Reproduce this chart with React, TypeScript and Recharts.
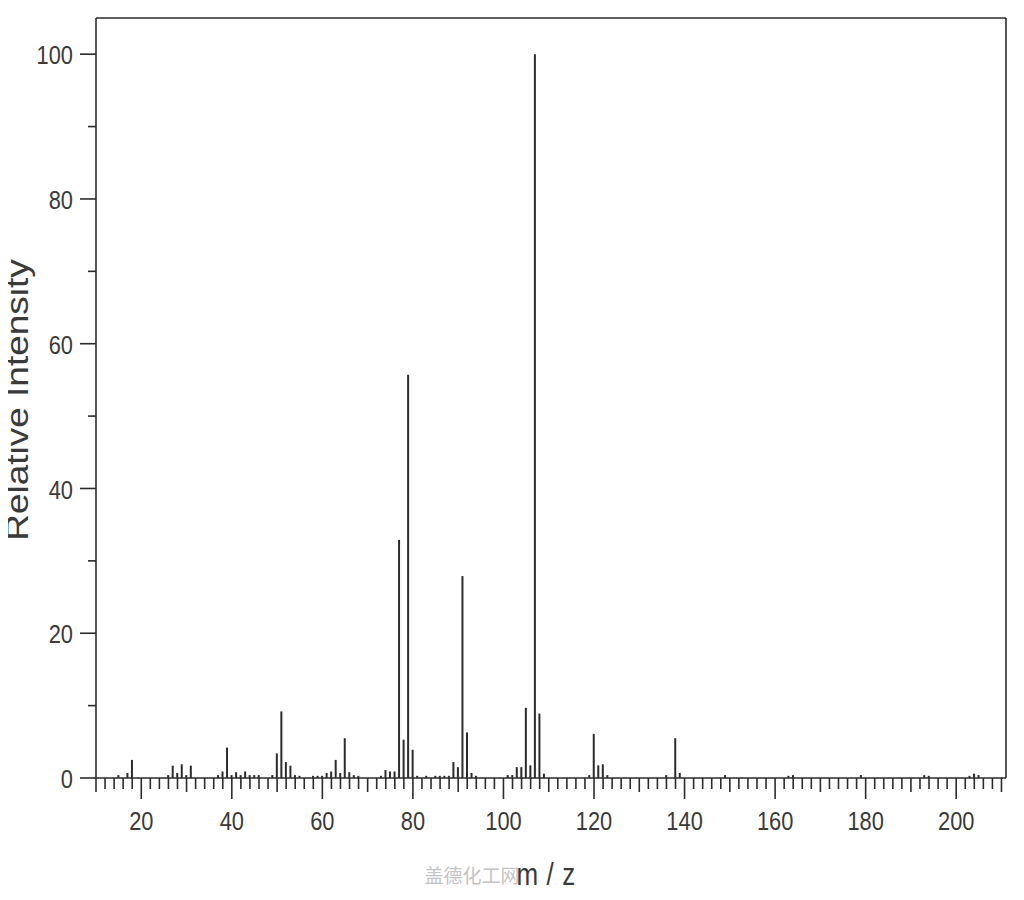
import React from 'react';
import { BarChart, Bar, XAxis, YAxis, ReferenceLine } from 'recharts';

// Mass spectrum peaks (m/z and relative intensity, %)
const MZ = [
  15, 17, 18, 26, 27, 28, 29, 30, 31, 37, 38, 39, 40, 41, 42, 43, 44, 45, 46, 49,
  50, 51, 52, 53, 54, 55, 58, 59, 60, 61, 62, 63, 64, 65, 66, 67, 68, 73, 74, 75,
  76, 77, 78, 79, 80, 81, 83, 85, 86, 87, 88, 89, 90, 91, 92, 93, 94, 101, 102, 103,
  104, 105, 106, 107, 108, 109, 119, 120, 121, 122, 123, 136, 138, 139, 149, 163, 164, 179, 193, 194,
  203, 204, 205,
];
const INTENSITY = [
  0.4, 0.7, 2.5, 0.4, 1.7, 0.7, 1.9, 0.4, 1.7, 0.4, 0.9, 4.2, 0.4, 0.8, 0.4, 0.9, 0.4, 0.4, 0.4, 0.4,
  3.4, 9.2, 2.2, 1.7, 0.4, 0.3, 0.3, 0.3, 0.3, 0.7, 0.9, 2.5, 0.7, 5.5, 0.8, 0.4, 0.3, 0.3, 1.1, 0.9,
  0.9, 32.9, 5.3, 55.7, 3.9, 0.3, 0.3, 0.3, 0.3, 0.3, 0.3, 2.2, 1.5, 27.9, 6.3, 0.7, 0.3, 0.4, 0.4, 1.5,
  1.5, 9.7, 1.75, 100, 8.9, 0.6, 0.4, 6.1, 1.75, 1.9, 0.4, 0.4, 5.5, 0.7, 0.4, 0.3, 0.4, 0.4, 0.4, 0.3,
  0.3, 0.6, 0.4,
];

const X_LABELS = [20, 40, 60, 80, 100, 120, 140, 160, 180, 200];
const Y_LABELS = [0, 20, 40, 60, 80, 100];
const Y_TICKS = [0, 10, 20, 30, 40, 50, 60, 70, 80, 90, 100];
// minor tick every 2 units along m/z
const X_TICKS = Array.from({ length: 101 }, (_, i) => 10 + i * 2);

const X_DOMAIN = [10, 211];
const Y_DOMAIN = [0, 105];

const data = MZ.map((mz, i) => ({ mz, intensity: INTENSITY[i] }));

const INK = '#2b2b2b';
const LABEL_INK = '#3a3a3a';
const FONT = '"Liberation Sans", Arial, sans-serif';

const XTick = ({ x, y, payload }: any) => {
  const v = payload.value;
  const len = v % 20 === 0 ? 21 : v % 10 === 0 ? 14 : 11;
  return (
    <g>
      <line x1={x} y1={y} x2={x} y2={y + len} stroke={INK} strokeWidth={1.6} />
      {X_LABELS.includes(v) && (
        <text
          transform={`translate(${x},${y + 43}) scale(0.84,1)`}
          textAnchor="middle"
          dominantBaseline="central"
          fontSize={26}
          fill={LABEL_INK}
          fontFamily={FONT}
        >
          {v}
        </text>
      )}
    </g>
  );
};

const YTick = ({ x, y, payload }: any) => {
  const v = payload.value;
  const len = v % 20 === 0 ? 16 : 8;
  return (
    <g>
      <line x1={x - len} y1={y} x2={x} y2={y} stroke={INK} strokeWidth={1.6} />
      {Y_LABELS.includes(v) && (
        <text
          transform={`translate(${x - 23},${y + 1}) scale(0.84,1)`}
          textAnchor="end"
          dominantBaseline="central"
          fontSize={26}
          fill={LABEL_INK}
          fontFamily={FONT}
        >
          {v}
        </text>
      )}
    </g>
  );
};

export default function App() {
  return (
    <div style={{ position: 'relative', width: 1010, height: 890 }}>
      <BarChart
        width={1010}
        height={890}
        data={data}
        margin={{ top: 10, right: 12, bottom: 0, left: 0 }}
      >
        <XAxis
          xAxisId="main"
          dataKey="mz"
          type="number"
          domain={X_DOMAIN}
          ticks={X_TICKS}
          interval={0}
          height={120}
          tickSize={0}
          tickMargin={0}
          tickLine={false}
          tick={<XTick />}
          axisLine={{ stroke: INK, strokeWidth: 1.6 }}
        />
        <YAxis
          yAxisId="main"
          type="number"
          domain={Y_DOMAIN}
          ticks={Y_TICKS}
          interval={0}
          width={88}
          tickSize={0}
          tickMargin={0}
          tickLine={false}
          tick={<YTick />}
          axisLine={{ stroke: INK, strokeWidth: 1.6 }}
        />
        {/* box frame: top and right edges */}
        <ReferenceLine xAxisId="main" yAxisId="main" y={Y_DOMAIN[1]} stroke={INK} strokeWidth={1.6} />
        <ReferenceLine xAxisId="main" yAxisId="main" x={X_DOMAIN[1]} stroke={INK} strokeWidth={1.6} />
        <Bar
          xAxisId="main"
          yAxisId="main"
          dataKey="intensity"
          fill={INK}
          barSize={2}
          isAnimationActive={false}
        />
      </BarChart>
      <svg
        width={1010}
        height={890}
        style={{ position: 'absolute', left: 0, top: 0, overflow: 'visible', pointerEvents: 'none' }}
      >
        <text
          transform="translate(9,392) rotate(-90) scale(1,0.84)"
          textAnchor="middle"
          dominantBaseline="central"
          fontSize={37}
          fill={LABEL_INK}
          fontFamily={FONT}
        >
          Relative Intensity
        </text>
        <text
          x={464}
          y={866}
          textAnchor="middle"
          dominantBaseline="central"
          fontSize={19}
          fill="#c4c4c4"
          fontFamily='"Noto Sans CJK SC", sans-serif'
        >
          盖德化工网
        </text>
        <text
          transform="translate(542,866) scale(0.84,1)"
          textAnchor="middle"
          dominantBaseline="central"
          fontSize={31}
          letterSpacing={10}
          fill={LABEL_INK}
          fontFamily={FONT}
        >
          m/z
        </text>
      </svg>
    </div>
  );
}
